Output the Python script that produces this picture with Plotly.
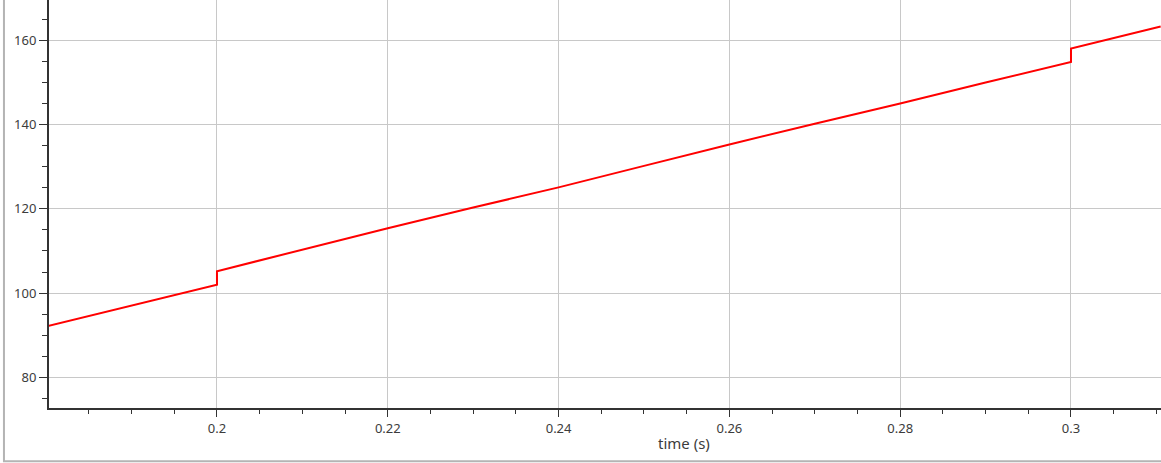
import plotly.graph_objects as go

# signal samples (jumps at 0.2 s and 0.3 s)
time_s = [0.1803, 0.19, 0.2, 0.2, 0.21, 0.22, 0.23, 0.24, 0.25, 0.26,
          0.27, 0.28, 0.29, 0.3, 0.3, 0.3105]
signal = [92.2, 97.1, 102.0, 105.2, 110.3, 115.4, 120.3, 125.1, 130.2, 135.3,
          140.2, 145.0, 150.0, 154.9, 158.1, 163.3]

x_range = [0.18033, 0.31054]
y_range = [72.7, 169.6]
x_title = "time (s)"

FONT = "Noto Sans"
AXIS_COLOR = "#333333"
GRID_COLOR = "#c8c8c8"

fig = go.Figure()
fig.add_trace(
    go.Scatter(
        x=time_s,
        y=signal,
        mode="lines",
        line=dict(color="#ff0000", width=2),
        showlegend=False,
        hoverinfo="skip",
    )
)

fig.update_layout(
    width=1161,
    height=463,
    margin=dict(l=49, r=0, t=0, b=55),
    paper_bgcolor="white",
    plot_bgcolor="white",
    font=dict(family=FONT, size=13, color="#3c3c3c"),
    # grey frame of the surrounding widget (left and bottom visible)
    shapes=[
        dict(
            type="rect",
            xref="paper",
            yref="paper",
            x0=-0.0405,
            x1=1.2,
            y0=-0.1305,
            y1=1.2,
            line=dict(color="#b4b4b4", width=2),
            layer="below",
        )
    ],
    # axis title sits off-centre in the original widget (it is wider than the crop)
    annotations=[
        dict(
            text=x_title,
            xref="paper",
            yref="paper",
            x=0.571,
            y=-0.085,
            xanchor="center",
            yanchor="middle",
            showarrow=False,
            font=dict(size=15, color="#3c3c3c"),
        )
    ],
)

fig.update_xaxes(
    range=x_range,
    dtick=0.02,
    tick0=0.2,
    showgrid=True,
    gridcolor=GRID_COLOR,
    gridwidth=1,
    zeroline=False,
    showline=True,
    linecolor=AXIS_COLOR,
    linewidth=2,
    ticks="outside",
    ticklen=7,
    tickwidth=1,
    tickcolor=AXIS_COLOR,
    minor=dict(ticks="outside", dtick=0.005, tick0=0.2, ticklen=4, tickcolor=AXIS_COLOR, showgrid=False),
)

fig.update_yaxes(
    range=y_range,
    dtick=20,
    tick0=80,
    showgrid=True,
    gridcolor=GRID_COLOR,
    gridwidth=1,
    zeroline=False,
    showline=True,
    linecolor=AXIS_COLOR,
    linewidth=2,
    ticks="outside",
    ticklen=8,
    tickwidth=1,
    tickcolor=AXIS_COLOR,
    minor=dict(ticks="outside", dtick=5, tick0=80, ticklen=5, tickcolor=AXIS_COLOR, showgrid=False),
)

# the page body has a default 8px margin; drop it so the figure fills the window
fig.write_html(
    "out.html",
    config={"displayModeBar": False},
    post_script="document.body.style.margin = '0';",
)
